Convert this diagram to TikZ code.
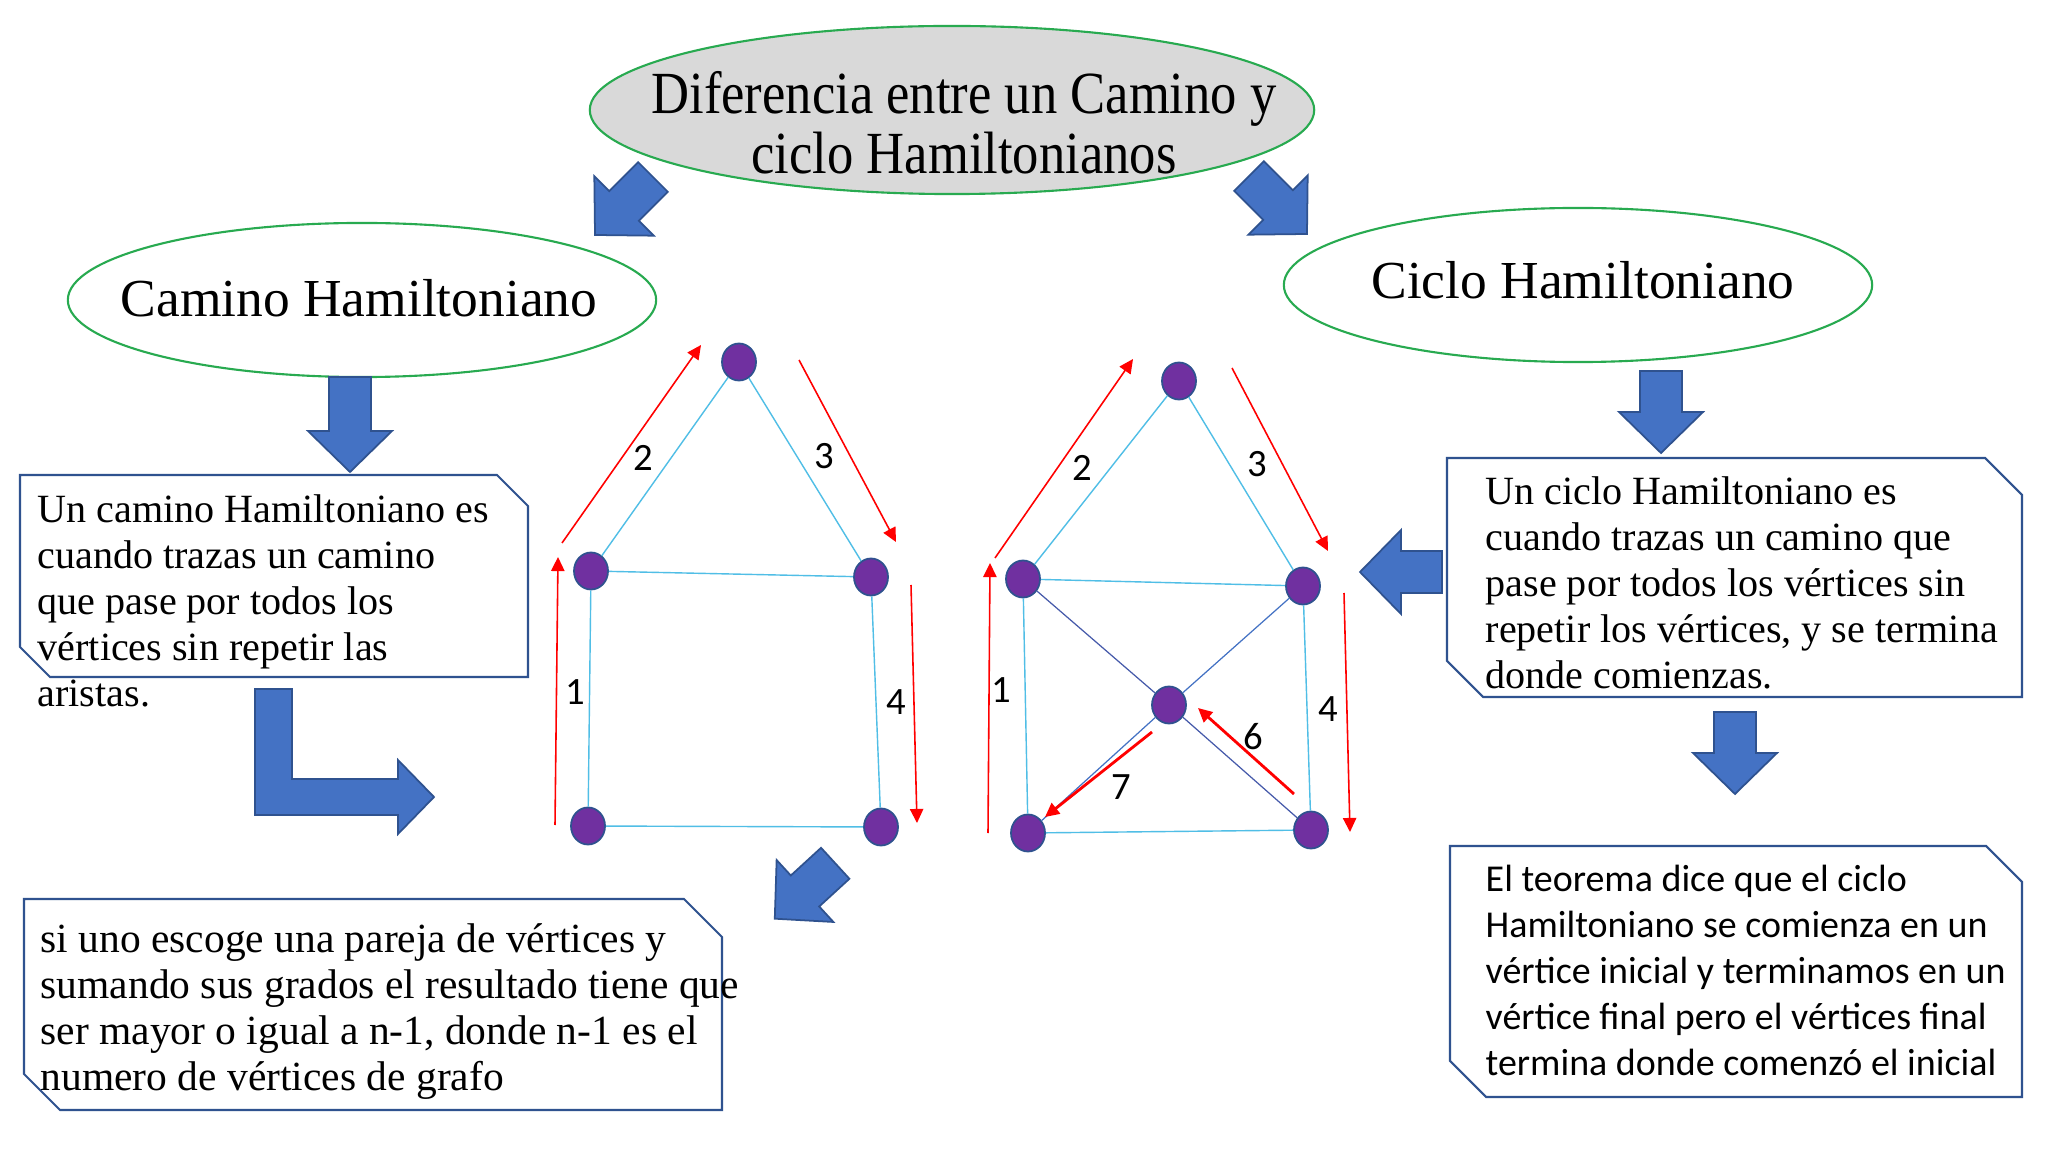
\documentclass[tikz,border=0pt]{standalone}
\usepackage{fontspec}
\setmainfont{Liberation Serif}
\newfontfamily\titulofont[FakeStretch=0.88]{Liberation Serif}
\newfontfamily\calibri{Carlito}
\usetikzlibrary{positioning,arrows.meta,shapes.geometric}

\definecolor{flechaazul}{RGB}{68,114,196}
\definecolor{bordeazul}{RGB}{47,82,143}
\definecolor{verdeelipse}{RGB}{40,170,80}
\definecolor{grisclaro}{RGB}{217,217,217}
\definecolor{aristacian}{RGB}{80,190,230}
\definecolor{morado}{RGB}{112,48,160}
\definecolor{diagazul}{RGB}{70,90,170}

\begin{document}
\begin{tikzpicture}[x=0.01cm, y=-0.01cm,
		elipse/.style={draw=verdeelipse, line width=0.6pt, ellipse, inner sep=0pt,
				minimum width=5.88cm, minimum height=1.54cm},
		elipsetxt/.style={inner sep=0pt, font=\fontsize{15.2}{18}\selectfont},
		titulo/.style={elipse, fill=grisclaro, minimum width=7.24cm, minimum height=1.68cm},
		titulotxt/.style={inner sep=0pt, align=center, font=\titulofont\fontsize{17}{17}\selectfont},
		caja/.style={draw=bordeazul, line width=0.6pt},
		texto/.style={anchor=north west, inner sep=0pt, align=left, font=\fontsize{11.4}{13.1}\selectfont},
		textocal/.style={texto, font=\calibri\fontsize{10.8}{13.1}\selectfont},
		bloque/.style={fill=flechaazul, draw=bordeazul, line width=0.5pt},
		pics/flecha/.style={code={
					\filldraw[bloque] (-#1,-21) -- (0,-21) -- (0,-42) -- (41,0) -- (0,42) -- (0,21) -- (-#1,21) -- cycle;}},
		vertice/.style={draw=bordeazul, fill=morado, ellipse, minimum width=0.34cm,
				minimum height=0.37cm, inner sep=0pt, line width=0.5pt},
		arista/.style={draw=aristacian, line width=0.4pt},
		diagonal/.style={draw=diagazul, line width=0.35pt},
		ruta/.style={-{Triangle[length=4pt,width=3.8pt]}, red, line width=0.45pt},
		rutagruesa/.style={ruta, line width=0.8pt},
		numero/.style={font=\calibri\fontsize{11}{13}\selectfont, inner sep=0pt},
	]
	\fill[white] (0,0) rectangle (2048,1152);
	\useasboundingbox (0,0) rectangle (2048,1152);

	% elipses
	\node[titulo] (titulo) at (952,110) {};
	\node[titulotxt] (titulotexto) at (964,123) {Diferencia entre un Camino y\\ciclo Hamiltonianos};
	\node[elipse] (camino) at (362,300) {};
	\node[elipsetxt] (caminotexto) at (359,298) {Camino Hamiltoniano};
	\node[elipse] (ciclo) at (1578,285) {};
	\node[elipsetxt] (ciclotexto) at (1583,280) {Ciclo Hamiltoniano};

	% flechas de bloque
	\pic[rotate=225] at (624,206) {flecha=41};
	\pic[rotate=-45] at (1278,205) {flecha=41};
	\pic[rotate=-90] at (350,431) {flecha=54};
	\pic[rotate=-90] at (1661,412) {flecha=41};
	\pic[rotate=180] at (1401,572) {flecha=41};
	\pic[rotate=-90] at (1735,753) {flecha=41};
	\pic[rotate=222.5] at (805,891) {flecha=41};
	\filldraw[bloque] (255,689) -- (292,689) -- (292,779) -- (398,779) -- (398,760)
		-- (434,797) -- (398,834) -- (398,815) -- (255,815) -- cycle;

	% cajas
	\draw[caja] (20,475) -- (497,475) -- (528,506) -- (528,677) -- (50,677) -- (20,647) -- cycle;
	\draw[caja] (1447,458) -- (1985,458) -- (2022,495) -- (2022,697) -- (1483,697) -- (1447,661) -- cycle;
	\draw[caja] (24,899) -- (684,899) -- (722,937) -- (722,1110) -- (60,1110) -- (24,1074) -- cycle;
	\draw[caja] (1450,846) -- (1986,846) -- (2022,882) -- (2022,1097) -- (1486,1097) -- (1450,1061) -- cycle;

	\node[texto] (defcamino) at (37,494) {Un camino Hamiltoniano es\\cuando trazas un camino\\que pase por todos los\\vértices sin repetir las\\aristas.};
	\node[texto] (defciclo) at (1485,476) {Un ciclo Hamiltoniano es\\cuando trazas un camino que\\pase por todos los vértices sin\\repetir los vértices, y se termina\\donde comienzas.};
	\node[texto, font=\fontsize{11.8}{13.1}\selectfont] (grados) at (40,923) {si uno escoge una pareja de vértices y\\sumando sus grados el resultado tiene que\\ser mayor o igual a n-1, donde n-1 es el\\numero de vértices de grafo};
	\node[textocal] (teorema) at (1485,864) {El teorema dice que el ciclo\\Hamiltoniano se comienza en un\\vértice inicial y terminamos en un\\vértice final pero el vértices final\\termina donde comenzó el inicial};

	% grafo del camino
	\node[vertice] (a1) at (739,362) {};
	\node[vertice] (b1) at (591,571) {};
	\node[vertice] (c1) at (871,577) {};
	\node[vertice] (d1) at (588,826) {};
	\node[vertice] (e1) at (881,827) {};
	\draw[arista] (a1) -- (b1);
	\draw[arista] (a1) -- (c1);
	\draw[arista] (b1) -- (c1);
	\draw[arista] (b1) -- (d1);
	\draw[arista] (c1) -- (e1);
	\draw[arista] (d1) -- (e1);
	\draw[ruta] (555,825) -- (558,557);
	\draw[ruta] (562,543) -- (701,345);
	\draw[ruta] (799,360) -- (896,542);
	\draw[ruta] (911,585) -- (917,823);
	\node[numero] (n11) at (575,692) {1};
	\node[numero] (n12) at (643,458) {2};
	\node[numero] (n13) at (824,456) {3};
	\node[numero] (n14) at (896,702) {4};

	% grafo del ciclo
	\node[vertice] (a2) at (1179,381) {};
	\node[vertice] (b2) at (1023,579) {};
	\node[vertice] (c2) at (1303,586) {};
	\node[vertice] (m2) at (1169,705) {};
	\node[vertice] (d2) at (1028,833) {};
	\node[vertice] (e2) at (1311,830) {};
	\draw[arista] (a2) -- (b2);
	\draw[arista] (a2) -- (c2);
	\draw[arista] (b2) -- (c2);
	\draw[arista] (b2) -- (d2);
	\draw[arista] (c2) -- (e2);
	\draw[arista] (d2) -- (e2);
	\draw[diagonal] (b2) -- (m2);
	\draw[diagonal] (m2) -- (e2);
	\draw[diagonal, draw=flechaazul] (c2) -- (m2);
	\draw[diagonal, draw=flechaazul] (m2) -- (d2);
	\draw[ruta] (988,833) -- (990,563);
	\draw[ruta] (995,558) -- (1133,359);
	\draw[ruta] (1232,368) -- (1328,551);
	\draw[ruta] (1344,593) -- (1350,832);
	\draw[rutagruesa] (1294,794) -- (1198,708);
	\draw[rutagruesa] (1152,732) -- (1045,817);
	\node[numero] (n21) at (1001,690) {1};
	\node[numero] (n22) at (1082,468) {2};
	\node[numero] (n23) at (1257,464) {3};
	\node[numero] (n24) at (1328,709) {4};
	\node[numero] (n26) at (1253,737) {6};
	\node[numero] (n27) at (1121,787) {7};
\end{tikzpicture}
\end{document}
